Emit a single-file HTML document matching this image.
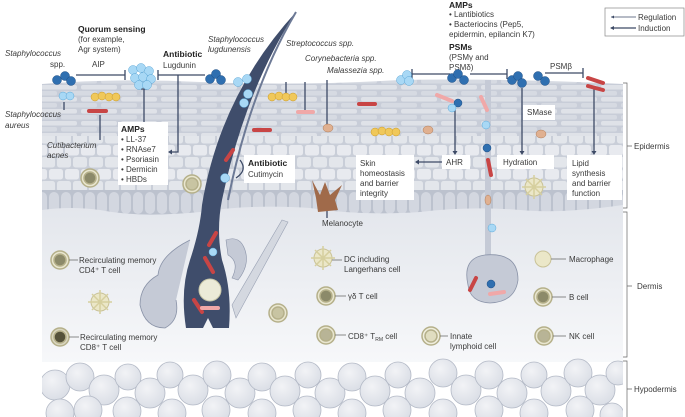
<!DOCTYPE html>
<html><head><meta charset="utf-8"><style>
html,body{margin:0;padding:0;background:#fff;}
svg{display:block;font-family:"Liberation Sans",sans-serif;}
.t{font-size:8px;fill:#3a3a3a;}
.b{font-size:8.5px;font-weight:bold;fill:#222;}
.i{font-size:8px;font-style:italic;fill:#3a3a3a;}
.ln{stroke:#3d4a66;stroke-width:1.3;fill:none;}
.bx{fill:#fff;}
.gl{stroke:#666;stroke-width:0.7;fill:none;}
</style></head><body>
<svg width="685" height="417" viewBox="0 0 685 417">
<defs>
<pattern id="pc" width="40" height="12" patternUnits="userSpaceOnUse">
<rect width="40" height="12" fill="#c8cdd8"/>
<rect x="1" y="1" width="36" height="4.5" rx="2" fill="#dfe2e8"/>
<rect x="-19" y="7" width="36" height="4.5" rx="2" fill="#d6dae2"/>
<rect x="21" y="7" width="36" height="4.5" rx="2" fill="#d6dae2"/>
</pattern>
<pattern id="ps" width="16" height="24" patternUnits="userSpaceOnUse">
<rect width="16" height="24" fill="#c9ced8"/>
<rect x="1" y="1" width="14" height="10.5" rx="2.5" fill="#e8eaef"/>
<rect x="-7" y="13" width="14" height="10.5" rx="2.5" fill="#e3e6eb"/>
<rect x="9" y="13" width="14" height="10.5" rx="2.5" fill="#e3e6eb"/>
</pattern>
<pattern id="pb" width="12" height="24" patternUnits="userSpaceOnUse">
<rect width="12" height="24" fill="#bcc2ce"/>
<rect x="1" y="0" width="10" height="22" rx="5" fill="#d3d7e0"/>
</pattern>
<linearGradient id="gd" x1="0" y1="0" x2="0" y2="1">
<stop offset="0" stop-color="#e3e6ec"/><stop offset="1" stop-color="#f7f8fa"/>
</linearGradient>
<radialGradient id="bub" cx="0.4" cy="0.35" r="0.7">
<stop offset="0" stop-color="#f2f3f6"/><stop offset="1" stop-color="#d9dde5"/>
</radialGradient>
</defs>

<!-- dermis -->
<rect x="42" y="205" width="581" height="160" fill="url(#gd)"/>
<!-- hypodermis -->
<rect x="42" y="362" width="581" height="55" fill="#fff"/>
<g stroke="#b3b9c6" stroke-width="0.8" fill="url(#bub)">
<circle cx="55" cy="385" r="15"/><circle cx="80" cy="377" r="14"/><circle cx="104" cy="390" r="15"/><circle cx="128" cy="377" r="13"/><circle cx="150" cy="393" r="15"/><circle cx="170" cy="375" r="13"/><circle cx="193" cy="390" r="15"/><circle cx="217" cy="375" r="14"/><circle cx="240" cy="393" r="15"/><circle cx="262" cy="377" r="14"/><circle cx="285" cy="391" r="15"/><circle cx="308" cy="375" r="13"/><circle cx="330" cy="393" r="15"/><circle cx="352" cy="377" r="14"/><circle cx="375" cy="391" r="15"/><circle cx="398" cy="375" r="13"/><circle cx="420" cy="393" r="15"/><circle cx="443" cy="373" r="14"/><circle cx="466" cy="390" r="15"/><circle cx="489" cy="375" r="14"/><circle cx="512" cy="393" r="15"/><circle cx="534" cy="375" r="13"/><circle cx="556" cy="391" r="15"/><circle cx="578" cy="373" r="14"/><circle cx="600" cy="390" r="15"/><circle cx="618" cy="373" r="12"/>
<circle cx="60" cy="413" r="14"/><circle cx="88" cy="410" r="14"/><circle cx="127" cy="411" r="14"/><circle cx="172" cy="413" r="14"/><circle cx="216" cy="410" r="14"/><circle cx="262" cy="413" r="14"/><circle cx="307" cy="410" r="14"/><circle cx="352" cy="413" r="14"/><circle cx="397" cy="410" r="14"/><circle cx="443" cy="413" r="14"/><circle cx="489" cy="410" r="14"/><circle cx="534" cy="413" r="14"/><circle cx="580" cy="410" r="14"/><circle cx="612" cy="415" r="12"/>
</g>
<rect x="0" y="352" width="42" height="65" fill="#fff"/>
<rect x="623" y="352" width="62" height="65" fill="#fff"/>

<!-- epidermis -->
<path d="M42 84 Q120 78 200 82 Q300 86 400 80 Q500 78 623 84 L623 138 L42 138 Z" fill="url(#pc)"/>
<rect x="42" y="136" width="581" height="56" fill="url(#ps)"/>
<path d="M42 190 L623 190 L623 205 Q560 214 520 210 Q470 206 420 212 Q360 216 310 208 Q250 204 200 212 Q140 218 100 210 Q70 206 42 210 Z" fill="url(#pb)"/>

<!-- hair follicle -->
<path d="M296 12 Q245 90 222 200 Q216 230 222 260 Q232 290 229 328 L213 328 L208 318 L203 328 L186 328 Q180 290 190 260 Q200 230 202 205 Q220 95 296 12 Z" fill="#3f4d6b"/>
<path d="M296 12 Q250 90 228 200" stroke="#6d7a96" stroke-width="2" fill="none"/>
<circle cx="210" cy="290" r="11" fill="#ecebd8" stroke="#c9c7a8"/>
<path d="M190 240 Q160 255 158 275 Q140 285 140 305 Q145 328 165 328 Q180 320 176 300" fill="#c5cad6" stroke="#8a93a8" stroke-width="0.8"/>
<path d="M226 240 Q240 235 245 250 Q250 265 238 280 L232 278 Q240 262 228 255 Z" fill="#c5cad6" stroke="#8a93a8" stroke-width="0.6"/>
<path d="M232 305 L282 220 L288 222 L236 318 Z" fill="#d4d8e0" stroke="#9aa2b4" stroke-width="0.6"/>
<!-- sweat gland -->
<path d="M488 80 L488 285" stroke="#c5cad6" stroke-width="6"/>
<path d="M468 285 Q462 258 485 255 Q518 252 518 280 Q515 302 490 303 Q470 302 468 285 Z" fill="#c5cad6" stroke="#8a93a8" stroke-width="0.8"/>

<!-- right brackets -->
<g class="gl"><path d="M623 83 H627 V208 H623 M627 146 H632"/><path d="M623 212 H627 V357 H623 M627 286 H632"/><path d="M623 361 H627 V417 M627 389 H632"/></g>
<text class="t" x="634" y="149">Epidermis</text>
<text class="t" x="637" y="289">Dermis</text>
<text class="t" x="634" y="392">Hypodermis</text>

<!-- legend -->
<rect x="605" y="8" width="79" height="28" fill="#fff" stroke="#888" stroke-width="0.7"/>
<path d="M611 17 H636" stroke="#3d4a66" stroke-width="0.8"/><path d="M611 17 l3 -1.5 v3z" fill="#3d4a66"/>
<path d="M611 28 H636" stroke="#3d4a66" stroke-width="1.3"/><path d="M610 28 l4 -2 v4z" fill="#3d4a66"/>
<text class="t" x="638" y="20">Regulation</text><text class="t" x="638" y="31">Induction</text>

<!-- top texts left -->
<text class="b" x="78" y="32">Quorum sensing</text>
<text class="t" x="78" y="42">(for example,</text><text class="t" x="78" y="52">Agr system)</text>
<text class="i" x="5" y="56">Staphylococcus</text><text class="t" x="50" y="67">spp.</text>
<text class="t" x="92" y="67">AIP</text>
<text class="b" x="163" y="57">Antibiotic</text><text class="t" x="163" y="68">Lugdunin</text>
<text class="i" x="208" y="42">Staphylococcus</text><text class="i" x="208" y="52">lugdunensis</text>
<text class="i" x="286" y="46">Streptococcus spp.</text>
<text class="i" x="305" y="61">Corynebacteria spp.</text>
<text class="i" x="327" y="73">Malassezia spp.</text>
<text class="i" x="5" y="117">Staphylococcus</text><text class="i" x="5" y="128">aureus</text>
<text class="i" x="47" y="148">Cutibacterium</text><text class="i" x="47" y="158">acnes</text>

<!-- top texts right -->
<text class="b" x="449" y="8">AMPs</text>
<text class="t" x="449" y="17">• Lantibiotics</text>
<text class="t" x="449" y="27">• Bacteriocins (Pep5,</text>
<text class="t" x="449" y="37">epidermin, epilancin K7)</text>
<text class="b" x="449" y="50">PSMs</text>
<text class="t" x="449" y="60">(PSMγ and</text><text class="t" x="449" y="70">PSMδ)</text>
<text class="t" x="550" y="69">PSMβ</text>

<!-- regulation lines -->
<g class="ln">
<path d="M76 75 H125 M125 70 V80"/>
<path d="M158 70 V80 M158 75 H205"/>
<path d="M178 75 V152 H172"/>
<path d="M141 89 H147 M144 89 V122"/>
<path d="M412 69 V79 M412 74 H450"/>
<path d="M470 74 H507 M507 69 V79"/>
<path d="M545 73 H583 M583 68 V78"/>
<path d="M455 110 V152"/><path d="M522 88 V152"/><path d="M594 88 V152"/>
<path d="M442 162 H418"/>
<path d="M240 160 Q248 170 236 178"/>
<path d="M100 115 V140 M64 102 V110 M286 82 V96 M305 82 V112 M327 80 V125 M327 210 V218"/>
</g>
<g fill="#3d4a66"><path d="M168 152 l4 -2.5 v5z"/><path d="M455 155 l-2.5 -4 h5z"/><path d="M522 155 l-2.5 -4 h5z"/><path d="M594 155 l-2.5 -4 h5z"/><path d="M415 162 l4 -2.5 v5z"/></g>

<!-- bacteria -->
<g fill="#2f6fb0" stroke="#1f4f85" stroke-width="0.5">
<circle cx="57" cy="80" r="4.5"/><circle cx="65" cy="76" r="4.5"/><circle cx="71" cy="81" r="4.5"/>
<circle cx="210" cy="79" r="4.5"/><circle cx="216" cy="74" r="4.5"/><circle cx="221" cy="80" r="4.5"/>
<circle cx="452" cy="78" r="4.5"/><circle cx="458" cy="74" r="4.5"/><circle cx="464" cy="80" r="4.5"/>
<circle cx="512" cy="80" r="4.5"/><circle cx="518" cy="76" r="4.5"/><circle cx="522" cy="83" r="4.5"/>
<circle cx="538" cy="76" r="4.5"/><circle cx="545" cy="81" r="4.5"/>
<circle cx="458" cy="103" r="4"/><circle cx="487" cy="148" r="4"/><circle cx="491" cy="284" r="4"/>
</g>
<g fill="#a8d8f5" stroke="#5ca8d8" stroke-width="0.5">
<circle cx="133" cy="70" r="4.5"/><circle cx="141" cy="68" r="4.5"/><circle cx="149" cy="71" r="4.5"/><circle cx="135" cy="78" r="4.5"/><circle cx="143" cy="77" r="4.5"/><circle cx="151" cy="79" r="4.5"/><circle cx="139" cy="85" r="4.5"/><circle cx="147" cy="85" r="4.5"/>
<circle cx="63" cy="96" r="4"/><circle cx="70" cy="96" r="4"/>
<circle cx="238" cy="82" r="4.5"/><circle cx="247" cy="79" r="4.5"/><circle cx="248" cy="94" r="4.5"/><circle cx="244" cy="103" r="4.5"/><circle cx="225" cy="178" r="4.5"/><circle cx="213" cy="252" r="4"/>
<circle cx="401" cy="80" r="4.5"/><circle cx="407" cy="75" r="4.5"/><circle cx="409" cy="81" r="4.5"/>
<circle cx="452" cy="108" r="4"/><circle cx="486" cy="125" r="4"/><circle cx="492" cy="228" r="4"/>
</g>
<g fill="#f0c85a" stroke="#c99a2a" stroke-width="0.5">
<circle cx="95" cy="97" r="4"/><circle cx="102" cy="96" r="4"/><circle cx="109" cy="97" r="4"/><circle cx="116" cy="97" r="4"/>
<circle cx="272" cy="97" r="4"/><circle cx="279" cy="96" r="4"/><circle cx="286" cy="97" r="4"/><circle cx="293" cy="97" r="4"/>
<circle cx="375" cy="132" r="4"/><circle cx="382" cy="131" r="4"/><circle cx="389" cy="132" r="4"/><circle cx="396" cy="132" r="4"/>
</g>
<g stroke-linecap="round" stroke-width="4">
<path d="M89 111 H106" stroke="#c84545"/><path d="M254 130 H270" stroke="#c84545"/><path d="M359 104 H375" stroke="#c84545"/>
<path d="M226 160 L233 150" stroke="#c84545"/><path d="M588 78 L603 83" stroke="#c84545"/><path d="M588 86 L603 90" stroke="#c84545"/>
<path d="M488 160 L491 175" stroke="#c84545"/><path d="M209 245 L216 233" stroke="#c84545"/><path d="M205 258 L213 272" stroke="#c84545"/><path d="M194 300 L202 312" stroke="#c84545"/><path d="M470 290 L476 278" stroke="#c84545"/>
<path d="M298 112 H313" stroke="#f0a8a8"/><path d="M437 95 L452 101" stroke="#f0a8a8"/><path d="M481 97 L487 110" stroke="#f0a8a8"/><path d="M202 308 H218" stroke="#f0a8a8"/><path d="M490 294 L504 292" stroke="#f0a8a8"/>
</g>
<g fill="#e0b090" stroke="#b07d5a" stroke-width="0.5">
<ellipse cx="328" cy="128" rx="5" ry="4"/><ellipse cx="428" cy="130" rx="5" ry="4"/><ellipse cx="541" cy="134" rx="5" ry="4"/><ellipse cx="488" cy="200" rx="3" ry="5"/>
</g>
<!-- melanocyte -->
<path d="M312 180 L320 195 L325 182 L330 195 L342 185 L335 200 L338 210 L318 212 L316 198 Z" fill="#a06a4a"/>

<!-- boxes -->
<rect class="bx" x="118" y="122" width="50" height="63"/>
<text class="b" x="121" y="132">AMPs</text>
<text class="t" x="121" y="142">• LL-37</text><text class="t" x="121" y="152">• RNAse7</text><text class="t" x="121" y="162">• Psoriasin</text><text class="t" x="121" y="172">• Dermicin</text><text class="t" x="121" y="182">• HBDs</text>
<rect class="bx" x="244" y="155" width="51" height="28"/>
<text class="b" x="248" y="166">Antibiotic</text><text class="t" x="248" y="177">Cutimycin</text>
<rect class="bx" x="356" y="155" width="58" height="45"/>
<text class="t" x="360" y="166">Skin</text><text class="t" x="360" y="176">homeostasis</text><text class="t" x="360" y="186">and barrier</text><text class="t" x="360" y="196">integrity</text>
<rect class="bx" x="442" y="155" width="28" height="14"/><text class="t" x="446" y="165">AHR</text>
<rect class="bx" x="497" y="155" width="57" height="14"/><text class="t" x="503" y="165">Hydration</text>
<rect class="bx" x="567" y="155" width="55" height="45"/>
<text class="t" x="572" y="166">Lipid</text><text class="t" x="572" y="176">synthesis</text><text class="t" x="572" y="186">and barrier</text><text class="t" x="572" y="196">function</text>
<rect class="bx" x="523" y="105" width="32" height="15"/><text class="t" x="527" y="115">SMase</text>

<!-- immune cells -->
<g stroke="#b5b08a" stroke-width="1.5">
<circle cx="90" cy="178" r="9" fill="#e9e6cf"/><circle cx="90" cy="178" r="6" fill="#8c8a6a"/>
<circle cx="192" cy="184" r="9" fill="#e9e6cf"/><circle cx="192" cy="184" r="6" fill="#c8c4a2"/>
<circle cx="60" cy="260" r="9" fill="#e9e6cf"/><circle cx="60" cy="260" r="6" fill="#8c8a6a"/>
<circle cx="60" cy="337" r="9" fill="#d9d6bf"/><circle cx="60" cy="337" r="6" fill="#55523a"/>
<circle cx="278" cy="313" r="9" fill="#e9e6cf"/><circle cx="278" cy="313" r="6" fill="#c8c4a2"/>
<circle cx="326" cy="296" r="9" fill="#e9e6cf"/><circle cx="326" cy="296" r="6" fill="#8c8a6a"/>
<circle cx="326" cy="335" r="9" fill="#e9e6cf"/><circle cx="326" cy="335" r="6" fill="#b8b496"/>
<circle cx="431" cy="336" r="9" fill="#f0eedd"/><circle cx="431" cy="336" r="6" fill="#e0ddc0"/>
<circle cx="543" cy="297" r="9" fill="#e9e6cf"/><circle cx="543" cy="297" r="6" fill="#8c8a6a"/>
<circle cx="544" cy="336" r="9" fill="#e9e6cf"/><circle cx="544" cy="336" r="6" fill="#b8b496"/>
</g>
<g fill="#ebe7c8" stroke="#c9c297" stroke-width="1">
<circle cx="100" cy="302" r="9"/><circle cx="323" cy="258" r="9"/><circle cx="534" cy="187" r="9"/><circle cx="543" cy="259" r="8"/>
</g>
<g stroke="#d6cf9e" stroke-width="1.5"><path d="M88 302 H112 M100 290 V314 M92 294 L108 310 M108 294 L92 310"/><path d="M311 258 H335 M323 246 V270 M315 250 L331 266 M331 250 L315 266"/><path d="M522 187 H546 M534 175 V199 M526 179 L542 195 M542 179 L526 195"/></g>

<g class="gl"><path d="M69 260 H78 M69 337 H79 M332 260 H342 M335 296 H346 M335 335 H346 M440 336 H448 M551 259 H566 M552 297 H566 M553 336 H566"/></g>
<text class="t" x="322" y="226">Melanocyte</text>
<text class="t" x="79" y="263">Recirculating memory</text><text class="t" x="79" y="273">CD4⁺ T cell</text>
<text class="t" x="344" y="262">DC including</text><text class="t" x="344" y="272">Langerhans cell</text>
<text class="t" x="569" y="262">Macrophage</text>
<text class="t" x="348" y="299">γδ T cell</text>
<text class="t" x="569" y="300">B cell</text>
<text class="t" x="80" y="340">Recirculating memory</text><text class="t" x="80" y="350">CD8⁺ T cell</text>
<text class="t" x="348" y="339">CD8⁺ T<tspan font-size="5" dy="2">RM</tspan><tspan dy="-2"> cell</tspan></text>
<text class="t" x="450" y="339">Innate</text><text class="t" x="450" y="349">lymphoid cell</text>
<text class="t" x="569" y="339">NK cell</text>
</svg>
</body></html>
